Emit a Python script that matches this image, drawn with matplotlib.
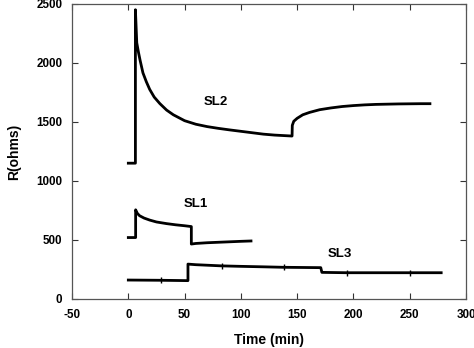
import matplotlib
matplotlib.use("Agg")
import matplotlib.pyplot as plt

plt.rcParams['font.family'] = ['Liberation Sans', 'DejaVu Sans']
plt.rcParams['font.weight'] = 'bold'
plt.rcParams['axes.unicode_minus'] = False

sl2_t = [0, 6.3, 6.3, 7.5, 9, 10.5, 13, 16, 19, 23, 28, 34, 40, 50, 60, 70, 80, 90, 100, 110,
         120, 130, 145.5, 145.7, 147, 150, 155, 161, 170, 180, 190, 200, 210, 220, 230, 240,
         250, 260, 268]
sl2_r = [1150, 1150, 2450, 2170, 2090, 2020, 1915, 1840, 1775, 1710, 1655, 1600, 1560, 1510,
         1480, 1460, 1445, 1432, 1420, 1408, 1396, 1388, 1380, 1470, 1505, 1530, 1560, 1580,
         1603, 1618, 1630, 1638, 1644, 1648, 1650, 1652, 1653, 1654, 1654]

sl1_t = [0, 6.5, 6.5, 8, 10, 14, 19, 25, 34, 42, 50, 56, 56, 60, 70, 80, 90, 100, 109]
sl1_r = [520, 520, 755, 725, 705, 685, 668, 652, 638, 628, 620, 613, 465, 470, 476, 480,
         484, 488, 491]

sl3_t = [0, 29, 53, 53, 60, 83, 100, 120, 138, 160, 171, 172, 194, 220, 250, 278]
sl3_r = [160, 158, 155, 295, 290, 280, 276, 272, 268, 266, 265, 225, 222, 222, 222, 222]
sl3_marks = [1, 5, 8, 12, 14]

labels = ["SL1", "SL2", "SL3"]
label_pos = [(60, 800), (78, 1672), (188, 378)]

x_ticks = [-50, 0, 50, 100, 150, 200, 250, 300]
y_ticks = [0, 500, 1000, 1500, 2000, 2500]

fig = plt.figure(figsize=(4.74, 3.48), dpi=100)
ax = fig.add_axes([0.152, 0.141, 0.831, 0.848])

lw = 2.0
ax.plot(sl2_t, sl2_r, color='black', lw=lw)
ax.plot(sl1_t, sl1_r, color='black', lw=lw)
ax.plot(sl3_t, sl3_r, color='black', lw=lw, marker='|', markevery=sl3_marks,
        markersize=5, markeredgewidth=1.0)

for lab, (x, y) in zip(labels, label_pos):
    ax.text(x, y, lab, fontsize=9.5, fontweight='bold', ha='center', va='center')

ax.set_xlim(-50, 300)
ax.set_ylim(0, 2500)
ax.set_xticks(x_ticks)
ax.set_yticks(y_ticks)
ax.tick_params(direction='in', top=True, right=True, length=4, width=0.8,
               labelsize=8.4, colors='#333333', labelcolor='black', pad=7)
for lbl in ax.get_xticklabels() + ax.get_yticklabels():
    lbl.set_fontweight('bold')
for s in ax.spines.values():
    s.set_color('#555555')
    s.set_linewidth(0.9)

ax.set_xlabel('Time (min)', fontsize=10, fontweight='bold', labelpad=9)
ax.set_ylabel('R(ohms)', fontsize=10, fontweight='bold', labelpad=11)

fig.savefig('out.png', dpi=100)
